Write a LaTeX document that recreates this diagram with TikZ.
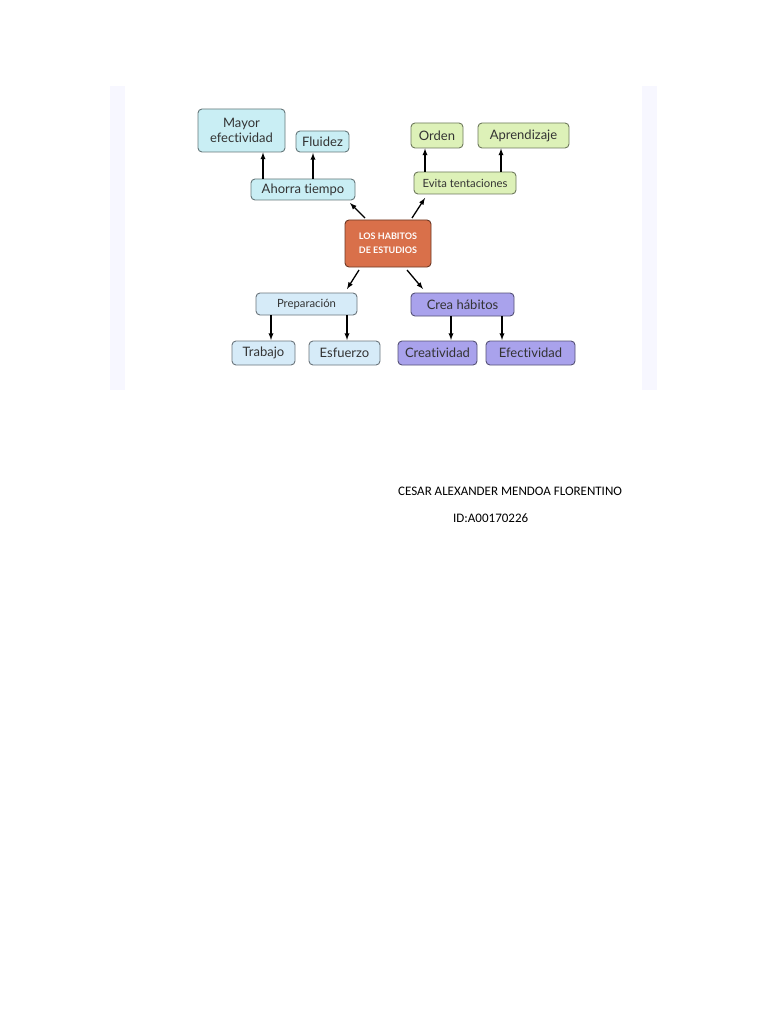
\documentclass[tikz,border=0pt]{standalone}
\usepackage{fontspec}
\setmainfont{Lato}[Ligatures=NoCommon]
\newfontfamily\carlfont{Carlito}
\begin{document}
\begin{tikzpicture}[x=1pt,y=-1pt,
 bx/.style={draw=#1!50!black,rounded corners=4pt,line width=0.9pt,inner sep=0pt,text=black!80},
 ar/.style={-latex,line width=1.3pt},
 txt/.style={font=\fontsize{13}{14}\selectfont}]
\useasboundingbox (0,0) rectangle (768,1024);
\fill[white] (0,0) rectangle (768,1024);
\fill[blue!3] (110,86) rectangle (657,390);
\fill[white] (125,86) rectangle (642,390);
\definecolor{cy}{HTML}{C9EEF4}
\definecolor{lb}{HTML}{D6EBF8}
\definecolor{gr}{HTML}{DDF1B8}
\definecolor{pu}{HTML}{A9A2EC}
\definecolor{or}{HTML}{D9704A}
\newcommand\bnode[6]{\node[bx=#5,fill=#5,minimum width=#3,minimum height=#4,txt,align=center] (#1) at #2 {#6};}
\bnode{may}{(241.5,130.5)}{87}{43}{cy}{Mayor\\[1pt]efectividad}
\bnode{flu}{(322.5,141.5)}{53}{21}{cy}{Fluidez}
\bnode{aho}{(303,189.5)}{104}{21}{cy}{Ahorra tiempo}
\bnode{ord}{(437,135.5)}{52}{25}{gr}{Orden}
\bnode{apr}{(523.5,135.5)}{91}{25}{gr}{Aprendizaje}
\node[bx=gr,fill=gr,minimum width=102,minimum height=22,font=\fontsize{11.3}{12}\selectfont] (evi) at (465,183) {Evita tentaciones};
\node[bx=or,fill=or,minimum width=86,minimum height=47,text=white,align=center,font=\bfseries\fontsize{9}{14}\selectfont] (cen) at (388,243.5) {LOS HABITOS\\DE ESTUDIOS};
\node[bx=lb,fill=lb,minimum width=101,minimum height=22,font=\fontsize{11.3}{12}\selectfont] (pre) at (306.5,304) {Preparación};
\bnode{cre}{(462.5,304.5)}{103}{23}{pu}{Crea hábitos}
\bnode{tra}{(263.5,353)}{63}{24}{lb}{Trabajo}
\bnode{esf}{(344.5,353)}{71}{24}{lb}{Esfuerzo}
\bnode{crt}{(437.5,353)}{79}{24}{pu}{Creatividad}
\bnode{efe}{(530.5,353)}{89}{24}{pu}{Efectividad}
\draw[ar] (263,179) -- (263,152.5);
\draw[ar] (313,179) -- (313,153);
\draw[ar] (425,172) -- (425,148.5);
\draw[ar] (501,172) -- (501,148.5);
\draw[ar] (365,218) -- (350,203);
\draw[ar] (412,218) -- (425,198);
\draw[ar] (359,270) -- (347,289);
\draw[ar] (407,270) -- (423,289);
\draw[ar] (271,315) -- (271,340);
\draw[ar] (347,315) -- (347,340);
\draw[ar] (451,316) -- (451,340);
\draw[ar] (502,316) -- (502,340);
\node[font=\carlfont\fontsize{13}{15}\selectfont,anchor=west,inner sep=0pt] (nm) at (398,491) {CESAR ALEXANDER MENDOA FLORENTINO};
\node[font=\carlfont\fontsize{13}{15}\selectfont,anchor=west,inner sep=0pt] (id) at (453,518) {ID:A00170226};
\end{tikzpicture}
\end{document}
